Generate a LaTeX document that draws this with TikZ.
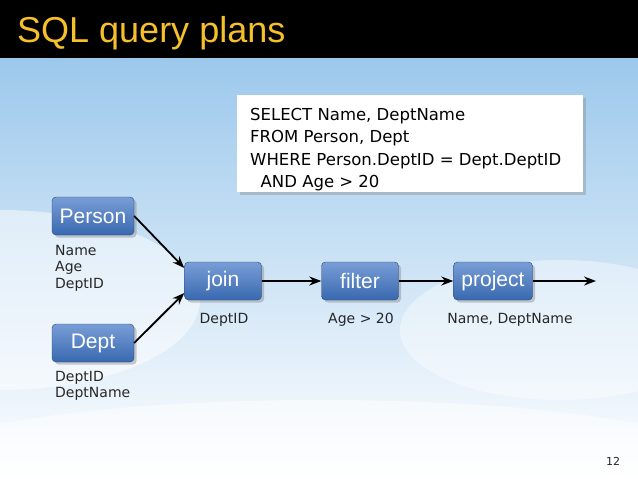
\documentclass[tikz,border=0pt]{standalone}
\usepackage{fontspec}
\setmainfont{Liberation Sans}
\newfontfamily\lab{DejaVu Sans}
\usetikzlibrary{arrows.meta,shadows}
\definecolor{sky}{HTML}{BFDDF2}
\definecolor{skytop}{HTML}{9CC8EC}
\definecolor{nodeblue}{HTML}{3F74C4}
\definecolor{titley}{HTML}{F6C02A}
\begin{document}
\begin{tikzpicture}[x=1pt,y=-1pt,
  op/.style={rounded corners=4pt,top color=nodeblue!70!white,bottom color=nodeblue!90!black,draw=nodeblue!60!black,text=white,font=\fontsize{21}{21}\selectfont,minimum height=38pt,inner sep=0pt,drop shadow={opacity=0.4}},
  lb/.style={font=\lab\fontsize{14}{16}\selectfont,text=black!85,inner sep=0pt},
  ar/.style={-{Stealth[length=12pt,width=9pt]},line width=1.8pt}]
\useasboundingbox (0,0) rectangle (638,479);
\shade[top color=skytop,bottom color=white] (0,58) rectangle (638,479);
\fill[white,opacity=0.5] (0,300) ellipse (200 and 90);
\fill[white,opacity=0.4] (560,330) ellipse (160 and 70);
\fill[white,opacity=0.5] (320,460) ellipse (400 and 60);
\fill[black] (0,0) rectangle (638,58);
\node[anchor=west,text=titley,font=\fontsize{36}{36}\selectfont,inner sep=0pt] (title) at (17,33) {SQL query plans};
\node[fill=white,drop shadow={opacity=0.35},anchor=north west,minimum width=346pt,minimum height=97pt,inner sep=0pt] (sqlbox) at (237,95) {};
\node[anchor=north west,align=left,font=\lab\fontsize{16.5}{22.5}\selectfont,inner sep=0pt] (sql) at (250,108) {SELECT Name, DeptName\\FROM Person, Dept\\WHERE Person.DeptID = Dept.DeptID\\\ \ AND Age > 20};
\node[op,minimum width=82pt] (person) at (93,216) {Person};
\node[op,minimum width=82pt] (dept) at (93,343) {Dept};
\node[op,minimum width=77pt] (join) at (223,281) {join};
\node[op,minimum width=77pt] (filter) at (360,281) {filter};
\node[op,minimum width=79pt] (project) at (493,281) {project};
\coordinate (out) at (596,281);
\draw[ar] (person.east) -- (join.west |- 0,268);
\draw[ar] (dept.east) -- (join.west |- 0,293);
\draw[ar] (join) -- (filter);
\draw[ar] (filter) -- (project);
\draw[ar] (project) -- (out);
\node[lb,anchor=north west,align=left,font=\lab\fontsize{14}{16.5}\selectfont] (pattr) at (55,245) {Name\\Age\\DeptID};
\node[lb,anchor=north west,align=left,font=\lab\fontsize{14}{16.5}\selectfont] (dattr) at (55,371) {DeptID\\DeptName};
\node[lb] (jl) at (224,320) {DeptID};
\node[lb] (fl) at (361,320) {Age > 20};
\node[lb] (pl) at (510,320) {Name, DeptName};
\node[lb,font=\lab\fontsize{11}{12}\selectfont] (pg) at (613,461) {12};
\end{tikzpicture}
\end{document}
